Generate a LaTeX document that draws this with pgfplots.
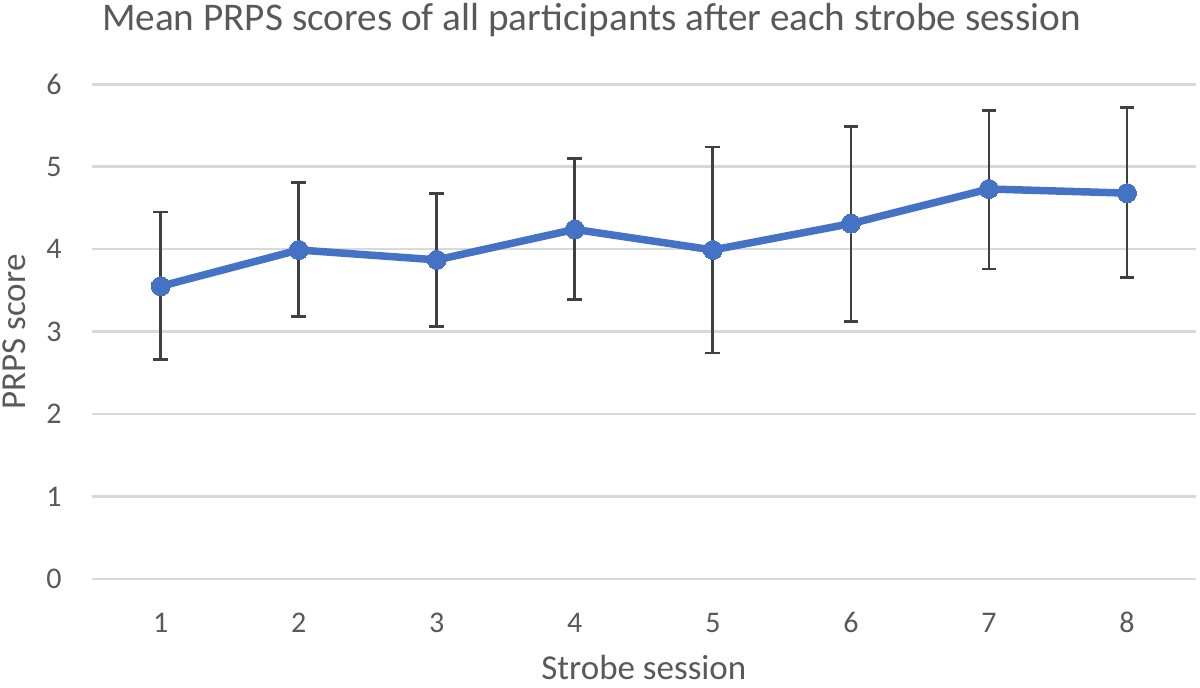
\documentclass[border=0pt]{standalone}
\usepackage{fontspec}
\setmainfont{Carlito}
\usepackage{pgfplots}
\usepackage{pgfplotstable}
\pgfplotsset{compat=1.18}

\definecolor{lineblue}{HTML}{4472C4}
\definecolor{errgray}{HTML}{404040}
\definecolor{gridgray}{HTML}{D9D9D9}
\definecolor{txtgray}{HTML}{595959}

% session, mean, error up, error down
\pgfplotstableread{
x y ep em
1 3.55 0.90 0.89
2 3.99 0.82 0.81
3 3.87 0.81 0.81
4 4.24 0.86 0.85
5 3.99 1.25 1.25
6 4.31 1.18 1.19
7 4.73 0.95 0.97
8 4.68 1.04 1.02
}\prps

\begin{document}
\begin{tikzpicture}
\begin{axis}[
  width=552pt, height=247.2pt, scale only axis,
  xmin=0.5, xmax=8.5, ymin=0, ymax=6,
  xtick={1,...,8}, ytick={0,...,6},
  axis line style={draw=none},
  major tick length=0pt,
  ymajorgrids,
  grid style={draw=gridgray, line width=1.3pt},
  /pgf/number format/assume math mode=true,
  ticklabel style={font=\fontsize{15}{18}\selectfont, text=txtgray, inner sep=0pt},
  xticklabel style={anchor=center, yshift=-21.9pt},
  yticklabel style={anchor=east, xshift=-14.85pt},
  clip=false,
]
\addplot[forget plot, draw=none, mark=none,
  error bars/.cd, y dir=both, y explicit,
  error bar style={draw=errgray, line width=1.4pt},
  error mark options={draw=errgray, line width=1.4pt, mark size=3.7pt, rotate=90}]
  table[x=x, y=y, y error plus=ep, y error minus=em] {\prps};
\addplot[lineblue, line width=3.75pt, mark=*, mark size=4.75pt,
  mark options={fill=lineblue, draw=lineblue, line width=0pt}]
  table[x=x, y=y] {\prps};

\node[anchor=base, text=txtgray, font=\fontsize{19.6}{23}\selectfont]
  at (rel axis cs:0.4526,1.1098) {Mean PRPS scores of all participants after each strobe session};
\node[anchor=base, text=txtgray, font=\fontsize{17.5}{21}\selectfont]
  at (rel axis cs:0.5,-0.2035) {Strobe session};
\node[rotate=90, anchor=center, text=txtgray, font=\fontsize{17.5}{21}\selectfont]
  at (rel axis cs:-0.0704,0.499) {PRPS score};
\end{axis}
\pgfresetboundingbox
\useasboundingbox ([shift={(-45.85pt,-54.15pt)}]current axis.south west)
  rectangle ([shift={(2pt,42.15pt)}]current axis.north east);
\end{tikzpicture}
\end{document}
